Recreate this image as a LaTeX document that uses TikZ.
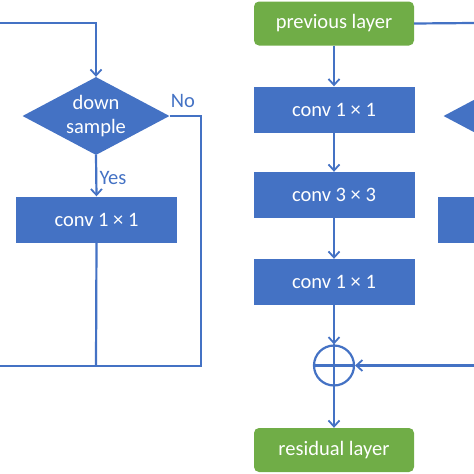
\documentclass[tikz,border=0pt]{standalone}
\usepackage{fontspec}
\setmainfont{Carlito}
\usetikzlibrary{shapes.geometric,arrows.meta}
\definecolor{cblue}{HTML}{4472C4}
\definecolor{cgreen}{HTML}{70AD47}
\tikzset{
  every node/.style={font=\fontsize{20.5}{24}\selectfont},
  blk/.style={fill=cblue, text=white, draw=none, minimum width=161pt, minimum height=46pt, inner sep=0pt},
  gblk/.style={fill=cgreen, text=white, draw=none, rounded corners=5pt, minimum width=160pt, minimum height=44pt, inner sep=0pt},
  dia/.style={diamond, fill=cblue, text=white, draw=none, inner sep=0pt, minimum width=147pt, minimum height=78pt, aspect=1.88, align=center},
  conn/.style={draw=cblue, line width=2.2pt},
  arr/.style={conn, -{Straight Barb[length=6pt,width=11pt,line width=1.8pt]}},
  lbl/.style={text=cblue},
}
\begin{document}
\begin{tikzpicture}[x=1pt,y=-1pt]
\useasboundingbox (0,0) rectangle (474,474);
% left part
\coordinate (lt0) at (0,23);
\coordinate (lt1) at (96,23);
\node[dia] (ds) at (96,116) {down\\sample};
\node[blk] (lc) at (96.5,219.5) {conv 1 × 1};
\coordinate (lr1) at (201,116);
\coordinate (lr2) at (201,366);
\coordinate (lb0) at (0,366);
\coordinate (lbm) at (96,366);
\draw[arr] (lt0) -- (lt1) -- (ds.north);
\draw[arr] (ds.south) -- node[lbl, right, pos=0.55, xshift=-1pt] {Yes} (lc.north);
\draw[conn] (ds.east) -- (lr1) -- (lr2) -- (lb0);
\draw[conn] (lc.south) -- (lbm);
\node[lbl] (no) at (183,101) {No};
% right part
\node[gblk] (prev) at (334,23.5) {previous layer};
\node[blk] (c1) at (334,109.5) {conv 1 × 1};
\node[blk] (c3) at (334,195) {conv 3 × 3};
\node[blk] (c1b) at (334,282) {conv 1 × 1};
\node[circle, draw=cblue, line width=2.2pt, minimum size=40pt, inner sep=0pt] (sum) at (334,365.5) {};
\node[gblk] (res) at (334,450) {residual layer};
\coordinate (rt) at (474,23);
\coordinate (rr) at (474,365.5);
\draw[conn] (prev.east) -- (rt);
\draw[arr] (prev.south) -- (c1.north);
\draw[arr] (c1.south) -- (c3.north);
\draw[arr] (c3.south) -- (c1b.north);
\draw[arr] (c1b.south) -- (sum.north);
\draw[arr] (sum.south) -- (res.north);
\draw[arr] (rr) -- (sum.east);
\draw[conn] (sum.north) -- (sum.south);
\draw[conn] (sum.west) -- (sum.east);
% partial shapes at right edge
\node[dia] (ds2) at (517,116) {};
\node[blk, anchor=north west] (pc) at (438,197) {};
\end{tikzpicture}
\end{document}
